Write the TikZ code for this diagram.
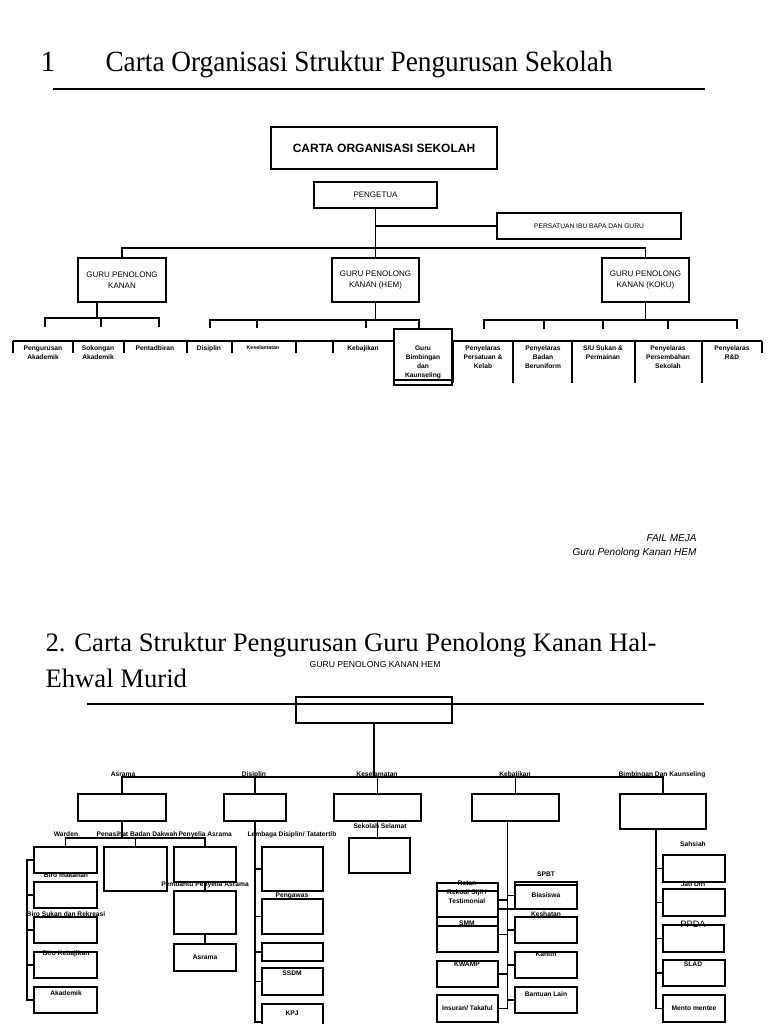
\documentclass[tikz,border=0pt]{standalone}
\usepackage{fontspec}
\setmainfont{Liberation Serif}
\setsansfont{Liberation Sans}
\usetikzlibrary{positioning}

\begin{document}
\begin{tikzpicture}[
    x=0.75pt, y=-0.75pt,
    line width=0.8pt,
    pbox/.style n args={4}{
        minimum width={(#3-#1)*0.75pt},
        minimum height={(#4-#2)*0.75pt},
        at={({(#1+#3)/2},{(#2+#4)/2})},
    },
    ob/.style={
        draw,
        inner sep=0pt,
        outer sep=0pt,
        align=center,
        font=\sffamily\fontsize{6}{8}\selectfont,
    },
    tx/.style={
        inner sep=0pt,
        align=center,
        font=\sffamily\bfseries\fontsize{5}{6.8}\selectfont,
    },
    bt/.style={tx,anchor=base},
    hd/.style={
        anchor=west,
        inner sep=0pt,
        font=\fontsize{20}{24}\selectfont,
    },
]
    \clip (0,0) rectangle (768,1024);
    % ~~~ part 1: heading ~~~~~~~~~~~~
    \node[hd,anchor=base,font=\fontsize{22}{24}\selectfont] (num1) at (48,72) {1};
    \node[hd,anchor=base west] (head1) at (105,72) {\scalebox{0.93}[1]{\fontsize{22}{24}\selectfont Carta Organisasi Struktur Pengurusan Sekolah}};
    \draw (53,89) -- (705,89);

    % ~~~ part 1: top levels ~~~~~~~~~~~~
    \node[ob,pbox={271}{127}{497}{169},font=\sffamily\bfseries\fontsize{9}{10}\selectfont] (carta) {CARTA ORGANISASI SEKOLAH};
    \node[ob,pbox={314}{182}{437}{208}] (pengetua) {PENGETUA};
    \node[ob,pbox={497}{213}{681}{239},font=\sffamily\fontsize{5}{6}\selectfont] (pibg) {PERSATUAN IBU BAPA DAN GURU};
    \node[ob,pbox={78}{258}{166}{302}] (gpkA) {GURU PENOLONG\\KANAN};
    \node[ob,pbox={332}{258}{419}{302}] (gpkH) {GURU PENOLONG\\KANAN (HEM)};
    \node[ob,pbox={602}{258}{689}{302}] (gpkK) {GURU PENOLONG\\KANAN (KOKU)};
    \draw (pengetua.south) -- (gpkH.north);
    \draw (pengetua.south |- pibg.west) -- (pibg.west);
    \draw (gpkA.north) -- ++(0,-10) -| (gpkK.north);

    % ~~~ part 1: branches under each GPK ~~~~~~~~~
    \draw (gpkA.south west) ++(19,0) -- ++(0,16);
    \draw (45,327) |- (159,318) -- ++(0,9);
    \draw (101,318) -- ++(0,9);
    \draw (gpkH.south) -- ++(0,18);
    \draw (210,328) |- (419,320) -- ++(0,9);
    \foreach \xx in {257,366} \draw (\xx,320) -- ++(0,8);
    \draw (gpkK.south) -- ++(0,18);
    \draw (484,329) |- (737,320) -- ++(0,9);
    \foreach \xx in {544,603,668} \draw (\xx,320) -- ++(0,9);

    % ~~~ part 1: unit row ~~~~~~~~~~~~
    \node[ob,pbox={394}{329}{452}{385}] (gbk) {};
    \draw (gbk.west |- 0,380) -- (gbk.east |- 0,380);
    \draw (13,341) -- (gbk.west |- 0,341);
    \draw (gbk.east |- 0,341) -- (762,341);
    \foreach \xx in {13,73,124,187,232,296,333,762} \draw (\xx,341) -- ++(0,12);
    \foreach \xx in {453,513,572,635,702} \draw (\xx,341) -- ++(0,42);
    \node[tx,anchor=north] (u1) at (43,345) {Pengurusan\\Akademik};
    \node[tx,anchor=north] (u2) at (98,345) {Sokongan\\Akademik};
    \node[tx,anchor=north] (u3) at (155,345) {Pentadbiran};
    \node[tx,anchor=north] (u4) at (209,345) {Disiplin};
    \node[tx,anchor=north,font=\sffamily\bfseries\fontsize{4}{5}\selectfont] (u5) at (263,345) {Keselamatan};
    \node[tx,anchor=north] (u6) at (363,345) {Kebajikan};
    \node[tx,anchor=north] (u7) at (gbk.north |- 0,345) {Guru\\Bimbingan\\dan\\Kaunseling};
    \node[tx,anchor=north] (u8) at (483,345) {Penyelaras\\Persatuan \&\\Kelab};
    \node[tx,anchor=north] (u9) at (543,345) {Penyelaras\\Badan\\Beruniform};
    \node[tx,anchor=north] (u10) at (603,345) {S/U Sukan \&\\Permainan};
    \node[tx,anchor=north] (u11) at (668,345) {Penyelaras\\Persembahan\\Sekolah};
    \node[tx,anchor=north] (u12) at (732,345) {Penyelaras\\R\&D};

    \node[anchor=east,inner sep=0pt,font=\sffamily\itshape\fontsize{7.5}{10.5}\selectfont,align=right] (fail) at (697,546) {FAIL MEJA\\Guru Penolong Kanan HEM};

    % ~~~ part 2: heading ~~~~~~~~~~~~
    \node[hd] (head2) at (45,645) {2. Carta Struktur Pengurusan Guru Penolong Kanan Hal-};
    \node[hd] (head2b) at (45,678) {Ehwal Murid};
    \node[inner sep=0pt,font=\sffamily\fontsize{6.5}{7}\selectfont] (hemtop) at (375,665) {GURU PENOLONG KANAN HEM};
    \draw (87,704) -- (704,704);
    \node[ob,pbox={296}{697}{452}{723}] (hem) {};

    % ~~~ part 2: five units ~~~~~~~~~~~~
    \node[ob,pbox={78}{794}{166}{821}] (asr) {};
    \node[ob,pbox={224}{794}{286}{821}] (dsp) {};
    \node[ob,pbox={334}{794}{421}{821}] (ksl) {};
    \node[ob,pbox={472}{794}{559}{821}] (kbj) {};
    \node[ob,pbox={620}{794}{706}{829}] (bdk) {};
    \draw (hem.south) -- ++(0,54);
    \draw (asr.north) -- ++(0,-17) -| (bdk.north);
    \foreach \nn in {dsp,ksl,kbj} \draw (\nn.north) -- ++(0,-17);
    \node[bt] (lasr) at (123,776) {Asrama};
    \node[bt] (ldsp) at (254,776) {Disiplin};
    \node[bt] (lksl) at (377,776) {Keselamatan};
    \node[bt] (lkbj) at (515,776) {Kebajikan};
    \node[bt] (lbdk) at (662,776) {Bimbingan Dan  Kaunseling};

    % ~~~ asrama ~~~~~~~~~~~~
    \node[ob,pbox={34}{847}{97}{873}] (w1) {};
    \node[ob,pbox={34}{882}{97}{908}] (w2) {};
    \node[ob,pbox={34}{917}{97}{943}] (w3) {};
    \node[ob,pbox={34}{952}{97}{978}] (w4) {};
    \node[ob,pbox={34}{987}{97}{1013}] (w5) {};
    \node[ob,pbox={104}{847}{167}{891}] (pbd) {};
    \node[ob,pbox={174}{847}{236}{882}] (py1) {};
    \node[ob,pbox={174}{891}{236}{934}] (py2) {};
    \node[ob,pbox={174}{944}{236}{971},font=\sffamily\bfseries\fontsize{5}{6}\selectfont] (py3) {Asrama};
    \draw (asr.south) -- ++(0,17);
    \draw (w1.north) -- ++(0,-9) -| (py1.north);
    \draw (pbd.north) -- ++(0,-9);
    \draw (w1.west) -- ++(-7,0) |- (w5.west);
    \foreach \nn in {w2,w3,w4} \draw (\nn.west) -- ++(-7,0);
    \draw (py1.south) -- (py2.north);
    \draw (py2.south) -- (py3.north);
    \node[bt] (lwar) at (66,836) {Warden};
    \node[bt,anchor=base east] (lpbd) at (178,836) {Penasihat Badan Dakwah};
    \node[bt,anchor=base west] (lpy) at (178,836) {Penyelia  Asrama};
    \node[bt] (lw1) at (66,877) {Biro makanan};
    \node[bt] (lw2) at (66,916) {Biro Sukan  dan Rekreasi};
    \node[bt] (lw3) at (66,955) {Biro Kebajikan};
    \node[bt] (lw4) at (66,995) {Akademik};
    \node[bt] (lpy2) at (205,886) {Pembantu Penyelia  Asrama};

    % ~~~ disiplin ~~~~~~~~~~~~
    \node[ob,pbox={262}{847}{323}{891}] (d1) {};
    \node[ob,pbox={262}{899}{323}{934}] (d2) {};
    \node[ob,pbox={262}{943}{323}{961}] (d3) {};
    \node[ob,pbox={262}{968}{323}{995}] (d4) {};
    \node[ob,pbox={262}{1004}{323}{1040}] (d5) {};
    \draw (dsp.south) |- (d5.west);
    \foreach \nn in {d1,d2,d3,d4} \draw (\nn.west) -- ++(-7,0);
    \node[bt] (ld0) at (292,836) {Lembaga  Disiplin/ Tatatertib};
    \node[bt] (ld2) at (292,897) {Pengawas};
    \node[bt] (ld4) at (292,975) {SSDM};
    \node[bt] (ld5) at (292,1015) {KPJ};

    % ~~~ keselamatan ~~~~~~~~~~~~
    \node[ob,pbox={349}{838}{410}{873}] (ks1) {};
    \draw (ksl.south) -- (ksl.south |- ks1.north);
    \node[bt] (lks) at (380,828) {Sekolah  Selamat};

    % ~~~ kebajikan ~~~~~~~~~~~~
    \node[ob,pbox={437}{883}{498}{917}] (kl1) {};
    \node[ob,pbox={437}{917}{498}{952}] (kl2) {};
    \node[ob,pbox={437}{961}{498}{987}] (kl3) {};
    \node[ob,pbox={437}{995}{498}{1022},font=\sffamily\bfseries\fontsize{5}{6}\selectfont] (kl4) {Insuran/ Takaful};
    \node[ob,pbox={515}{882}{577}{909},font=\sffamily\bfseries\fontsize{5}{6}\selectfont] (kr1) {Biasiswa};
    \node[ob,pbox={515}{917}{577}{943}] (kr2) {};
    \node[ob,pbox={515}{952}{577}{978}] (kr3) {};
    \node[ob,pbox={515}{987}{577}{1013}] (kr4) {};
    \draw (kl1.west |- 0,891) -- (kl1.east |- 0,891);
    \draw (kl2.west |- 0,926) -- (kl2.east |- 0,926);
    \draw (kr1.west |- 0,885) -- (kr1.east |- 0,885);
    \draw (kbj.south) ++(-8,0) |- (kl4.east);
    \foreach \nn in {kl1,kl2,kl3} \draw (\nn.east) -- ++(9,0);
    \foreach \nn in {kr1,kr2,kr3,kr4} \draw (\nn.west) -- ++(-8,0);
    \draw (kl1.east |- 0,909) -- (kr1.west |- 0,909);
    \node[tx,anchor=north] (lkl1) at (467,880) {Retan\\Rekod/ Sijil /\\Testimonial};
    \node[bt] (lkl2) at (467,925) {SMM};
    \node[bt] (lkl3) at (467,966) {KWAMP};
    \node[bt] (lkr0) at (546,876) {SPBT};
    \node[bt] (lkr2) at (546,916) {Keshatan};
    \node[bt] (lkr3) at (546,956) {Kantin};
    \node[bt] (lkr4) at (546,996) {Bantuan Lain};

    % ~~~ bimbingan dan kaunseling ~~~~~~~~~~~~
    \node[ob,pbox={663}{855}{725}{882}] (g1) {};
    \node[ob,pbox={663}{889}{725}{916}] (g2) {};
    \node[ob,pbox={663}{925}{724}{952}] (g3) {};
    \node[ob,pbox={663}{960}{725}{986}] (g4) {};
    \node[ob,pbox={663}{995}{725}{1022},font=\sffamily\bfseries\fontsize{5}{6}\selectfont] (g5) {Mento  mentee};
    \draw (bdk.south) ++(-7,0) |- (g5.west);
    \foreach \nn in {g1,g2,g3,g4} \draw (\nn.west) -- ++(-7,0);
    \node[bt] (lg1) at (693,846) {Sahsiah};
    \node[bt] (lg2) at (693,886) {Jati Diri};
    \node[bt,font=\sffamily\fontsize{7}{8}\selectfont] (lg3) at (693,927) {PPDA};
    \node[bt] (lg4) at (693,966) {SLAD};
\end{tikzpicture}
\end{document}
